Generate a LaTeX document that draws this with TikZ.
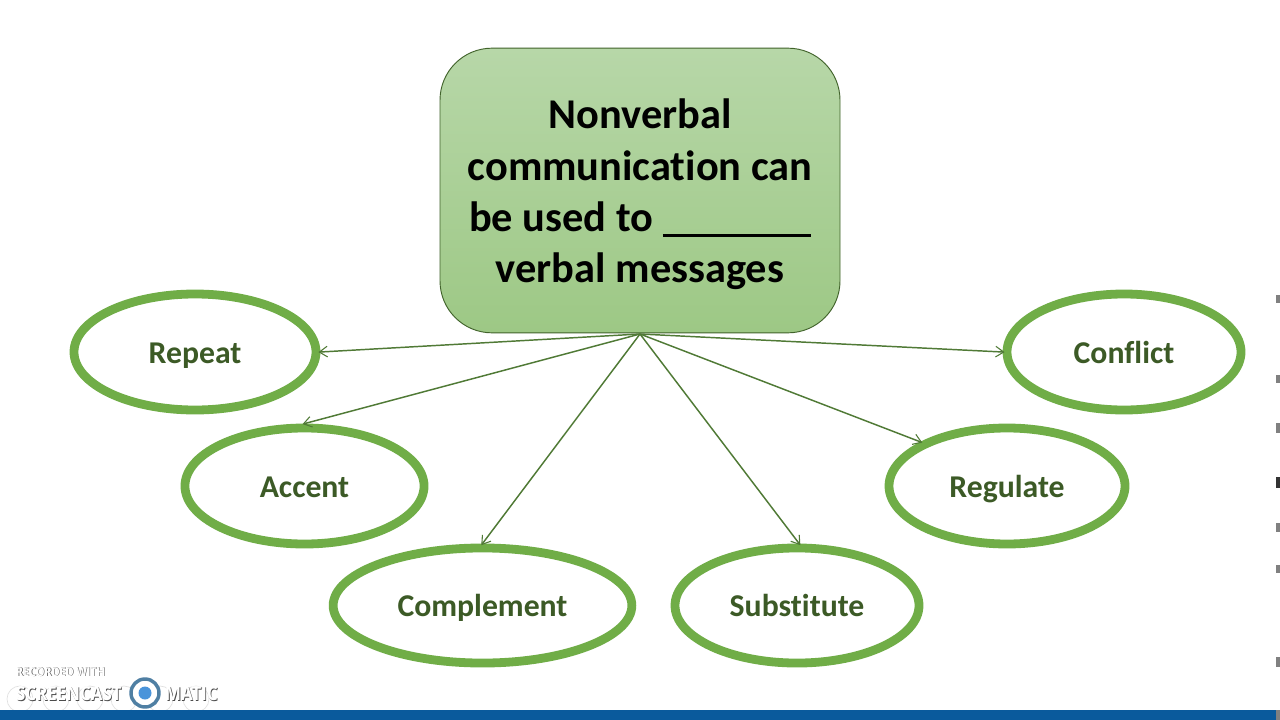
\documentclass[tikz,border=0pt]{standalone}
\usepackage{fontspec}
\setmainfont{Carlito}[RawFeature={-liga}]
\newfontfamily\wmfont{Open Sans}
\usetikzlibrary{shapes.geometric,arrows.meta,shadings}
\definecolor{ringgreen}{HTML}{70AD47}
\definecolor{textgreen}{HTML}{3C5A26}
\definecolor{linegreen}{HTML}{507A36}
\definecolor{boxedge}{HTML}{41632B}
\definecolor{boxtop}{HTML}{B7D7A8}
\definecolor{boxbot}{HTML}{9DC885}
\definecolor{barblue}{HTML}{0A5A9C}
\definecolor{logoring}{HTML}{4F7FA3}
\definecolor{logodot}{HTML}{4A94DA}
\tikzset{
 x=0.75pt,y=-0.75pt,
 ring/.style={ellipse,draw=ringgreen,line width=6.6pt,fill=white,inner sep=0pt,font=\fontsize{23.8}{28}\selectfont\bfseries,text=textgreen},
 hubbox/.style={rectangle,rounded corners=39pt,draw=boxedge,line width=0.7pt,top color=boxtop,bottom color=boxbot,minimum width=300pt,minimum height=213.5pt,align=center,font=\fontsize{31.8}{38.3}\selectfont\bfseries,text=black,inner sep=0pt},
 link/.style={draw=linegreen,line width=1.1pt,shorten >=-1.5pt,-{Straight Barb[length=6pt,width=8pt,line width=0.8pt]}},
 speck/.style={fill=black!50,draw=none},
 wm/.style={font=\wmfont\bfseries\fontsize{#1}{#1}\selectfont,inner sep=0pt,text=white,xscale=0.88,transform shape},
 wmshadow/.style={font=\wmfont\bfseries\fontsize{#1}{#1}\selectfont,inner sep=0pt,text=black!70,xscale=0.88,transform shape},
 ghost/.style={draw=black!12,line width=0.5pt}
}
\newcommand{\rl}[1]{\rule[-6.8pt]{0pt}{30.8pt}#1}
\begin{document}
\begin{tikzpicture}
\useasboundingbox (0,0) rectangle (1280,720);
\fill[white] (0,0) rectangle (1280,720);
\node[hubbox] (hub) at (640,190.5) {\rule{0pt}{28pt}Nonverbal\\communication can\\be used to \rule[-4.5pt]{111pt}{2.2pt}\\verbal messages};
\coordinate (src) at (640,334);
\node[ring,minimum width=181.5pt,minimum height=87pt] (repeat) at (195,352) {\rl{Repeat}};
\node[ring,minimum width=179.3pt,minimum height=87pt] (accent) at (304.5,486) {\rl{Accent}};
\node[ring,minimum width=224pt,minimum height=86.3pt] (complement) at (482.5,605.5) {\rl{Complement}};
\node[ring,minimum width=183pt,minimum height=86.3pt] (substitute) at (797,605.5) {\rl{Substitute}};
\node[ring,minimum width=177pt,minimum height=87pt] (regulate) at (1007,486) {\rl{Regulate}};
\node[ring,minimum width=175.5pt,minimum height=87pt] (conflict) at (1124,352) {\rl{Conflict}};
\draw[link] (src) -- (repeat.east);
\draw[link] (src) -- (accent.north);
\draw[link] (src) -- (complement.north);
\draw[link] (src) -- (substitute.88);
\draw[link] (src) -- (regulate.153);
\draw[link] (src) -- (conflict.west);
% ghost toolbar circles
\foreach \cx in {20,56,90,124,160,196} \draw[ghost] (\cx,699) circle (13);
% bottom bar
\fill[barblue] (0,710) rectangle (1280,720);
% watermark
\node[wmshadow=9.2,anchor=west] at (16.6,672.6) {RECORDED WITH};
\node[wm=9.2,anchor=west] (wma) at (16,672) {RECORDED WITH};
\node[wmshadow=14.4,anchor=west] at (16.8,694.8) {SCREENCAST};
\node[wm=14.4,anchor=west] (wmb) at (16,694) {SCREENCAST};
\node[wmshadow=14.4,anchor=west] at (165.8,694.8) {MATIC};
\node[wm=14.4,anchor=west] (wmc) at (165,694) {MATIC};
\fill[white] (145,693) circle (13);
\draw[draw=logoring,line width=2.6pt] (145,693) circle (14);
\fill[logodot] (145,693) circle (6.5);
% right edge specks
\fill[speck] (1276,295) rectangle (1280,303);
\fill[speck] (1276,375) rectangle (1280,383);
\fill[speck] (1276,423) rectangle (1280,433);
\fill[black!80] (1276,477) rectangle (1280,488);
\fill[speck] (1276,523) rectangle (1280,532);
\fill[speck] (1276,565) rectangle (1280,573);
\fill[speck] (1276,657) rectangle (1280,667);
\fill[speck] (1276,710) rectangle (1280,720);
\end{tikzpicture}
\end{document}
